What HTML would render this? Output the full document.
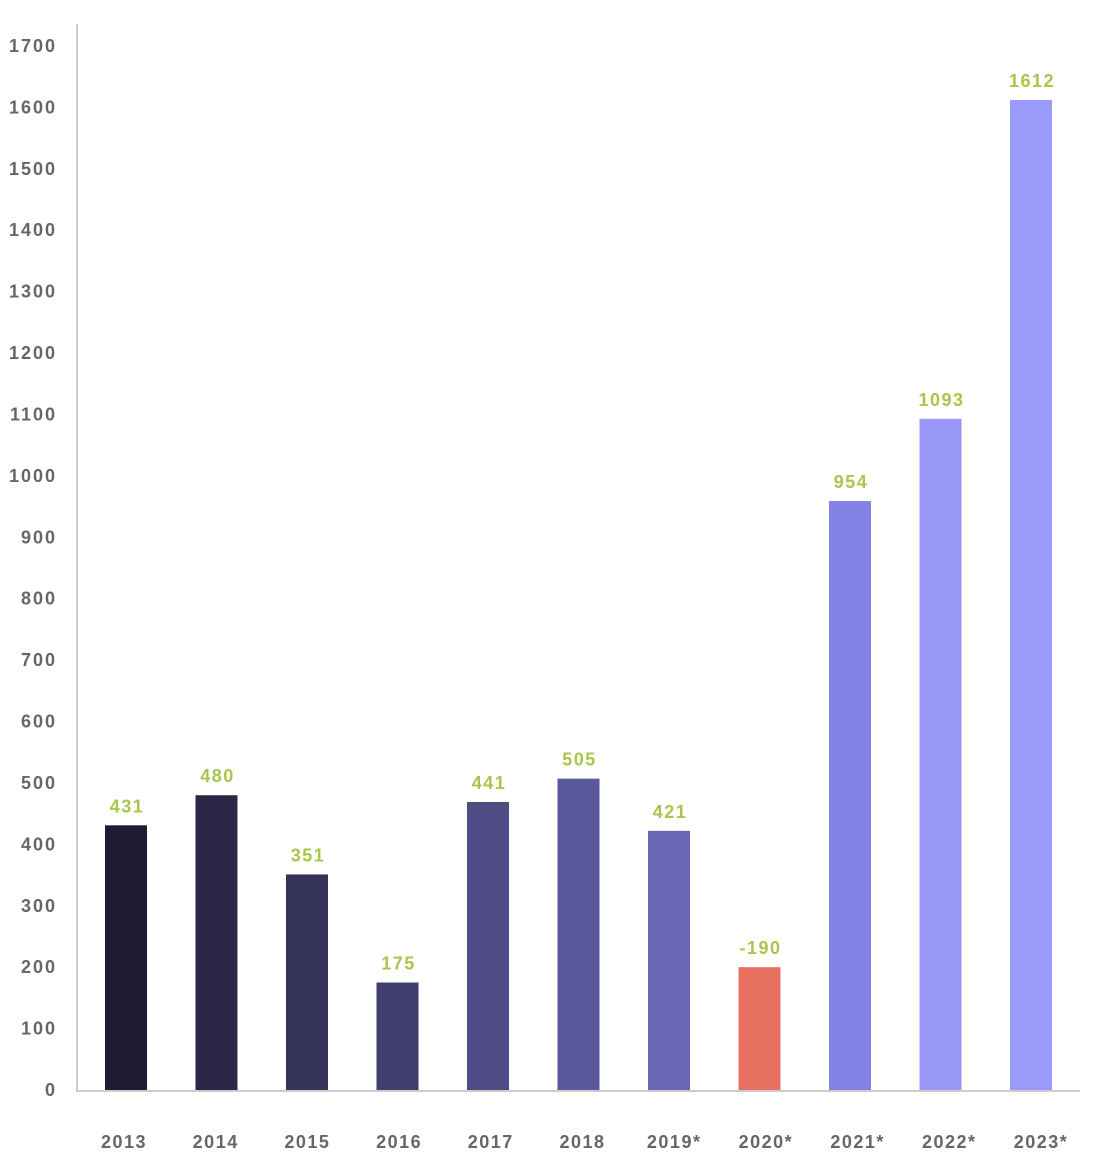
<!DOCTYPE html>
<html><head><meta charset="utf-8"><style>
html,body{margin:0;padding:0;background:#fff;}
svg{display:block;font-family:"Liberation Sans",sans-serif;font-weight:bold;}
</style></head><body>
<svg id="chart" width="1100" height="1165" viewBox="0 0 1100 1165"></svg>
<script>
const categories=["2013","2014","2015","2016","2017","2018","2019*","2020*","2021*","2022*","2023*"];
const values=[431,480,351,175,469,507,422,200,959,1093,1612];
const valueLabels=["431","480","351","175","441","505","421","-190","954","1093","1612"];
const colors=["#1e1c33","#2a2846","#35335a","#403e6e","#4e4b85","#5a579b","#6866b5","#e87060","#8381e3","#9897f8","#9a9afa"];
const yTicks=[0,100,200,300,400,500,600,700,800,900,1000,1100,1200,1300,1400,1500,1600,1700];
const NS="http://www.w3.org/2000/svg";
const svg=document.getElementById('chart');
const y0=1090,y1700=46;
function y(v){return y0-(v/1700)*(y0-y1700);}
function x(i){return 126+i*90.5;}
function mk(t,a,txt){const e=document.createElementNS(NS,t);for(const k in a)e.setAttribute(k,a[k]);if(txt!==undefined)e.textContent=txt;svg.appendChild(e);return e;}
yTicks.forEach(t=>{
  const e=mk('text',{x:57,y:y(t)+6,'text-anchor':'end','font-size':18,fill:'#666','letter-spacing':'2'},t);
  
  
});
categories.forEach((c,i)=>{
  const r=mk('rect',{x:x(i)-21,y:y(values[i]),width:42,height:y0-y(values[i]),fill:colors[i]});
  
  
  const l=mk('text',{x:x(i)+1,y:y(values[i])-13,'text-anchor':'middle','font-size':18,fill:'#a8c64a','letter-spacing':'1.5'},valueLabels[i]);
  
  
  const xl=mk('text',{x:x(i)-2+i*1.2,y:1148,'text-anchor':'middle','font-size':18,fill:'#666','letter-spacing':'1.5'},c);
  
  
});
const ya=mk('line',{x1:77,y1:24,x2:77,y2:1091,stroke:'#ccc','stroke-width':2});


const xa=mk('line',{x1:76,y1:1091,x2:1080,y2:1091,stroke:'#ccc','stroke-width':2});


</script>
</body></html>
